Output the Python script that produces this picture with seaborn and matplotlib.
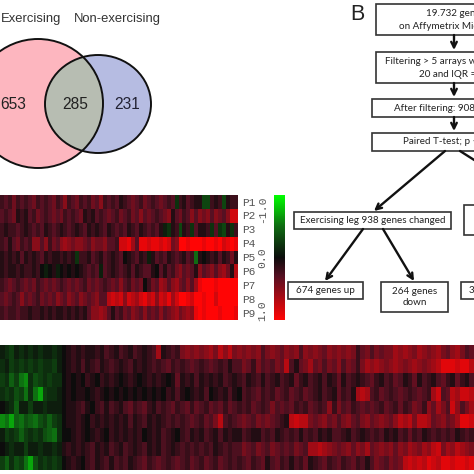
import numpy as np
import pandas as pd
import matplotlib
matplotlib.use('Agg')
import matplotlib.pyplot as plt
import seaborn as sns
from matplotlib.colors import LinearSegmentedColormap
from matplotlib.patches import Ellipse, Rectangle

patients = ['P1', 'P2', 'P3', 'P4', 'P5', 'P6', 'P7', 'P8', 'P9']
scale_labels = ['-1.0', '0.0', '1.0']
venn_labels = ['Exercising', 'Non-exercising']
venn_counts = [653, 285, 231]

# Expression, in tenths of the colour scale
top_p1 = [2,3,2,4,2,3,2,3,4,2,3,2,3,4,2,3,5,2,3,4,2,3,2,4,3,5,2,3,2,3,1,2,3,4,3,2,4,3,2,3,4,3,2,3,-2,2,1,3,2,1,1,-3,-3,2,1,2,-3,1,2,2]
top_p2 = [3,2,3,4,1,2,1,3,2,4,3,2,3,4,3,4,2,3,2,3,4,1,2,1,3,2,3,4,3,2,4,3,2,4,3,5,3,4,3,2,3,4,5,1,3,4,2,3,5,3,5,4,5,3,5,4,3,5,8,8]
top_p3 = [2,1,2,2,3,2,1,2,3,2,3,1,2,3,2,1,2,3,2,1,2,3,1,2,1,2,3,1,2,3,2,3,1,2,3,1,2,3,2,3,1,-1,-2,1,2,-3,1,2,-2,3,1,1,2,-2,3,-2,-3,1,-2,2]
top_p4 = [2,3,1,3,4,2,3,2,5,5,3,5,2,4,3,5,6,5,4,5,5,4,3,5,4,4,5,3,3,2,8,8,9,6,3,9,9,8,9,9,8,9,8,4,5,10,10,9,10,10,10,9,10,10,9,10,8,9,10,9]
top_p5 = [1,2,1,2,1,3,1,2,1,2,3,1,2,1,1,2,1,2,1,-2,2,2,1,3,2,1,3,2,1,2,3,0,1,2,3,1,2,-1,1,3,2,3,1,2,3,2,1,3,2,-5,1,0,1,2,1,3,1,2,4,1]
top_p6 = [1,2,1,1,2,1,2,2,1,2,0,-1,0,1,-1,0,1,0,1,0,1,2,3,2,3,-1,3,2,1,2,3,2,1,3,1,2,3,3,1,0,3,1,3,2,4,5,3,4,3,1,5,3,4,5,3,5,6,4,1,7]
top_p7 = [2,3,4,3,2,3,4,3,4,2,3,4,3,4,3,2,3,4,3,4,3,2,4,3,4,3,2,3,4,3,5,3,2,4,3,4,0,2,4,3,6,5,3,5,6,4,3,5,3,6,9,10,10,10,9,10,10,10,10,10]
top_p8 = [3,4,3,2,3,5,3,4,3,2,4,3,4,3,5,4,3,5,4,3,5,4,3,4,5,3,3,7,8,7,8,5,8,7,6,8,9,7,8,5,8,7,9,6,8,10,10,9,8,10,10,9,10,10,8,10,10,10,10,10]
top_p9 = [2,3,2,2,3,2,2,1,2,2,1,2,1,2,1,1,2,1,2,1,2,1,3,5,5,6,5,3,1,3,2,4,3,5,4,3,5,3,4,3,5,3,4,5,6,4,5,6,5,9,10,9,10,10,10,9,10,10,10,9]
top_rows = [top_p1, top_p2, top_p3, top_p4, top_p5, top_p6, top_p7, top_p8, top_p9]

low_p1 = [-1,-2,-3,-1,-2,-1,-2,-1,-2,-1,-1,-2,-1,0,1,2,1,2,1,1,2,1,3,2,1,3,2,1,3,2,1,2,3,7,1,2,3,2,5,6,5,6,5,6,7,5,8,6,8,5,
          6,5,6,5,6,3,5,6,5,4,6,5,6,3,6,5,6,5,4,6,5,6,5,6,5,2,4,5,3,5,4,5,5,7,6,7,6,5,7,6,5,6,7,5,4,6,7,5,3,4]
low_p2 = [-2,-1,-3,-2,-3,-2,-3,-2,-3,-2,-2,-3,-1,0,1,2,1,3,1,2,3,1,2,3,2,1,2,3,1,2,1,2,3,2,3,4,2,3,2,3,4,3,2,3,4,3,2,3,1,3,
          3,5,4,2,5,3,4,3,5,4,8,3,1,4,5,7,4,5,3,5,4,6,3,5,4,2,5,7,6,7,6,5,6,7,6,5,6,7,6,5,6,7,8,10,10,10,9,10,10,8]
low_p3 = [-3,-2,-5,-3,-6,-7,-2,-4,-3,-2,-3,-2,-2,0,1,0,1,0,2,1,0,2,1,2,1,0,1,2,1,0,1,2,1,2,1,0,1,4,1,2,1,3,1,2,1,2,1,3,2,1,
          2,3,1,2,3,1,3,2,1,3,2,1,4,2,1,3,2,1,3,1,2,4,1,3,2,1,2,3,4,2,1,3,2,4,3,1,2,4,1,3,2,1,3,4,2,1,4,2,1,3]
low_p4 = [-2,-3,-2,-4,-3,-6,-2,-6,-8,-3,-2,-2,-1,0,1,0,1,1,0,1,2,1,0,1,0,1,0,1,0,1,0,1,0,1,0,2,1,3,1,0,1,2,1,3,0,1,2,1,3,1,
          0,3,2,3,4,2,3,2,4,3,2,4,3,2,4,3,2,1,3,2,1,4,2,3,1,7,8,7,3,2,4,3,2,3,4,3,2,3,4,3,2,7,9,3,4,8,7,9,9,8]
low_p5 = [0,-1,-2,-5,-1,-1,-3,-1,-1,-2,-1,-1,-1,0,1,1,2,3,1,0,2,3,1,3,2,1,3,4,2,3,4,2,1,3,2,3,4,2,3,4,2,4,3,2,4,3,4,2,4,3,
          2,3,2,4,3,2,3,5,3,4,3,4,2,3,2,4,3,2,3,6,2,5,3,4,2,3,4,3,4,3,2,4,3,2,4,2,3,5,4,2,6,4,7,5,3,9,6,3,5,7]
low_p6 = [-7,-6,-8,-5,-6,-4,-5,-6,-4,-3,-5,-3,-2,0,1,1,2,1,0,2,1,2,1,2,1,2,1,3,1,2,3,1,2,1,2,3,2,3,2,3,4,3,2,4,3,5,8,3,2,3,
          4,5,4,3,5,4,5,4,3,2,1,8,9,8,8,5,4,5,6,4,5,3,5,6,4,3,5,6,4,5,6,5,4,6,8,7,8,5,8,8,7,4,5,6,4,5,7,10,10,9]
low_p7 = [-1,-3,-2,-3,-5,-3,-2,-3,-2,-4,-5,-6,-2,0,0,1,2,1,0,1,2,1,0,2,1,2,1,2,1,2,0,1,2,1,3,2,1,0,2,3,1,2,1,3,2,1,3,1,2,1,
          1,3,2,1,1,3,2,3,1,2,3,2,3,1,3,2,3,1,2,1,3,3,2,1,3,2,1,2,3,2,3,1,2,1,3,2,4,2,3,1,2,3,2,3,2,3,1,2,3,2]
low_p8 = [0,-1,-2,-1,-1,-3,-1,-1,-2,-1,-1,-2,-1,1,2,1,2,1,2,3,1,2,1,3,2,1,3,2,1,2,3,1,2,1,3,2,1,2,3,2,3,2,3,2,3,1,2,3,2,3,
          3,5,4,3,5,4,3,5,4,3,4,3,5,4,3,7,7,8,7,6,5,4,5,6,4,6,5,7,4,5,6,5,6,4,6,5,7,6,5,7,6,8,9,5,7,6,8,7,6,5]
low_p9 = [-3,-5,-2,-4,-3,-6,-8,-4,-2,-3,-2,-3,-2,0,1,2,1,0,2,3,1,2,3,1,3,2,3,1,2,3,4,2,3,4,3,2,3,4,3,2,4,3,2,4,3,2,4,3,2,3,
          2,3,4,2,3,4,1,3,4,2,3,1,3,2,4,1,2,3,4,2,3,4,2,3,4,2,3,1,3,5,4,3,5,4,5,8,9,8,9,8,10,9,8,10,10,9,10,10,9,10]
low_rows = [low_p1, low_p2, low_p3, low_p4, low_p5, low_p6, low_p7, low_p8, low_p9]

W, H = 474, 474
plt.rcParams['font.family'] = ['Liberation Sans', 'DejaVu Sans']
fig = plt.figure(figsize=(W / 100, H / 100), dpi=100, facecolor='white')
gr_cmap = LinearSegmentedColormap.from_list('gkr', [(0, '#00ff00'), (0.25, '#0f6a12'), (0.5, '#0c0c0c'),
                                                    (0.65, '#561022'), (1, '#ff0505')])


def px_axes(x0, y0, x1, y1):
    return fig.add_axes([x0 / W, 1 - y1 / H, (x1 - x0) / W, (y1 - y0) / H])


top = pd.DataFrame(top_rows, index=patients) / 10
low = pd.DataFrame(low_rows, index=patients) / 10

ax_top = px_axes(0, 195, 238, 320)
cax = px_axes(274, 195, 285, 320)
sns.heatmap(top, ax=ax_top, cmap=gr_cmap, vmin=-1, vmax=1, xticklabels=False, yticklabels=False,
            cbar_ax=cax, cbar_kws={'ticks': []})
cax.invert_yaxis()
for side in cax.spines.values():
    side.set_visible(False)

# the lower panel reads duller than the upper one
ax_low = px_axes(0, 345, 474, 470)
sns.heatmap(low, ax=ax_low, cmap=gr_cmap, vmin=-1.15, vmax=1.15, xticklabels=False, yticklabels=False, cbar=False)
ax_top.set_xlabel('')
ax_low.set_xlabel('')

# overlay in picture pixels for the venn, labels and flow chart
ov = fig.add_axes([0, 0, 1, 1], facecolor='none')
ov.set_xlim(0, W)
ov.set_ylim(H, 0)
ov.axis('off')

pink = Ellipse((38, 103.5), 130, 129, fc='#fdb6bf', ec='none')
blue = Ellipse((98, 104), 106, 98, fc='#b6bce2', ec='none')
ov.add_patch(pink)
ov.add_patch(blue)
both = Ellipse((98, 104), 106, 98, fc='#b7bdb2', ec='none')
ov.add_patch(both)
both.set_clip_path(pink)
ov.add_patch(Ellipse((38, 103.5), 130, 129, fc='none', ec='#111111', lw=1.4))
ov.add_patch(Ellipse((98, 104), 106, 98, fc='none', ec='#111111', lw=1.4))

ov.text(61, 19, venn_labels[0], ha='right', va='center', fontsize=9.4, color='#333333')
ov.text(74, 19, venn_labels[1], ha='left', va='center', fontsize=9.4, color='#333333')
ov.text(26, 104, str(venn_counts[0]), ha='right', va='center', fontsize=11.2, color='#222222')
ov.text(75, 104, str(venn_counts[1]), ha='center', va='center', fontsize=11.2, color='#222222')
ov.text(127, 104, str(venn_counts[2]), ha='center', va='center', fontsize=11.2, color='#222233')
ov.text(350, 14, 'B', ha='left', va='center', fontsize=15.5, color='#222222')

for i, name in enumerate(patients):
    ov.text(242, 202.5 + i * 13.9, name, ha='left', va='center', fontsize=8,
            family=['Liberation Mono'], color='#555555')
for lab, y in zip(scale_labels, [209, 258, 311]):
    ov.text(262, y, lab, ha='center', va='center', rotation=90, fontsize=8.2,
            family=['Liberation Mono'], color='#555555')

# flow chart boxes
boxes = [(376, 4, 560, 35), (376, 52, 560, 83), (372, 99, 560, 117), (372, 133, 560, 151),
         (294, 212, 451, 229), (464, 205, 560, 235), (288, 282, 363, 299), (381, 282, 448, 312),
         (461, 282, 560, 299)]
for x0, y0, x1, y1 in boxes:
    ov.add_patch(Rectangle((x0, y0), x1 - x0, y1 - y0, fc='white', ec='#333333', lw=1.2))

flow_font = dict(family=['Lato'], fontsize=7.1, color='#222222', va='center')
ov.text(426, 13, '19.732 genes', ha='left', **flow_font)
ov.text(399, 26, 'on Affymetrix Microarray', ha='left', **flow_font)
ov.text(385, 61, 'Filtering > 5 arrays with', ha='left', **flow_font)
ov.text(419, 74, '20 and IQR =', ha='left', **flow_font)
ov.text(394, 108, 'After filtering: 908', ha='left', **flow_font)
ov.text(403, 142, 'Paired T-test; p <', ha='left', **flow_font)
ov.text(300, 220.5, 'Exercising leg 938 genes changed', ha='left', **flow_font)
ov.text(325.5, 290.5, '674 genes up', ha='center', **flow_font)
ov.text(414.5, 297, '264 genes\ndown', ha='center', linespacing=1.25, **flow_font)
ov.text(469, 290.5, '3', ha='left', **flow_font)

arrows = [((454, 35), (454, 50)), ((454, 83), (454, 97)), ((454, 117), (454, 131)),
          ((445, 151), (374, 211)), ((460, 151), (490, 170)), ((363, 229), (325, 281)), ((383, 229), (414, 281))]
for start, end in arrows:
    ov.annotate('', xy=end, xytext=start, annotation_clip=False,
                arrowprops=dict(arrowstyle='->', color='#111111', lw=1.7, shrinkA=0, shrinkB=0, mutation_scale=10))

fig.savefig('out.png', dpi=100)
